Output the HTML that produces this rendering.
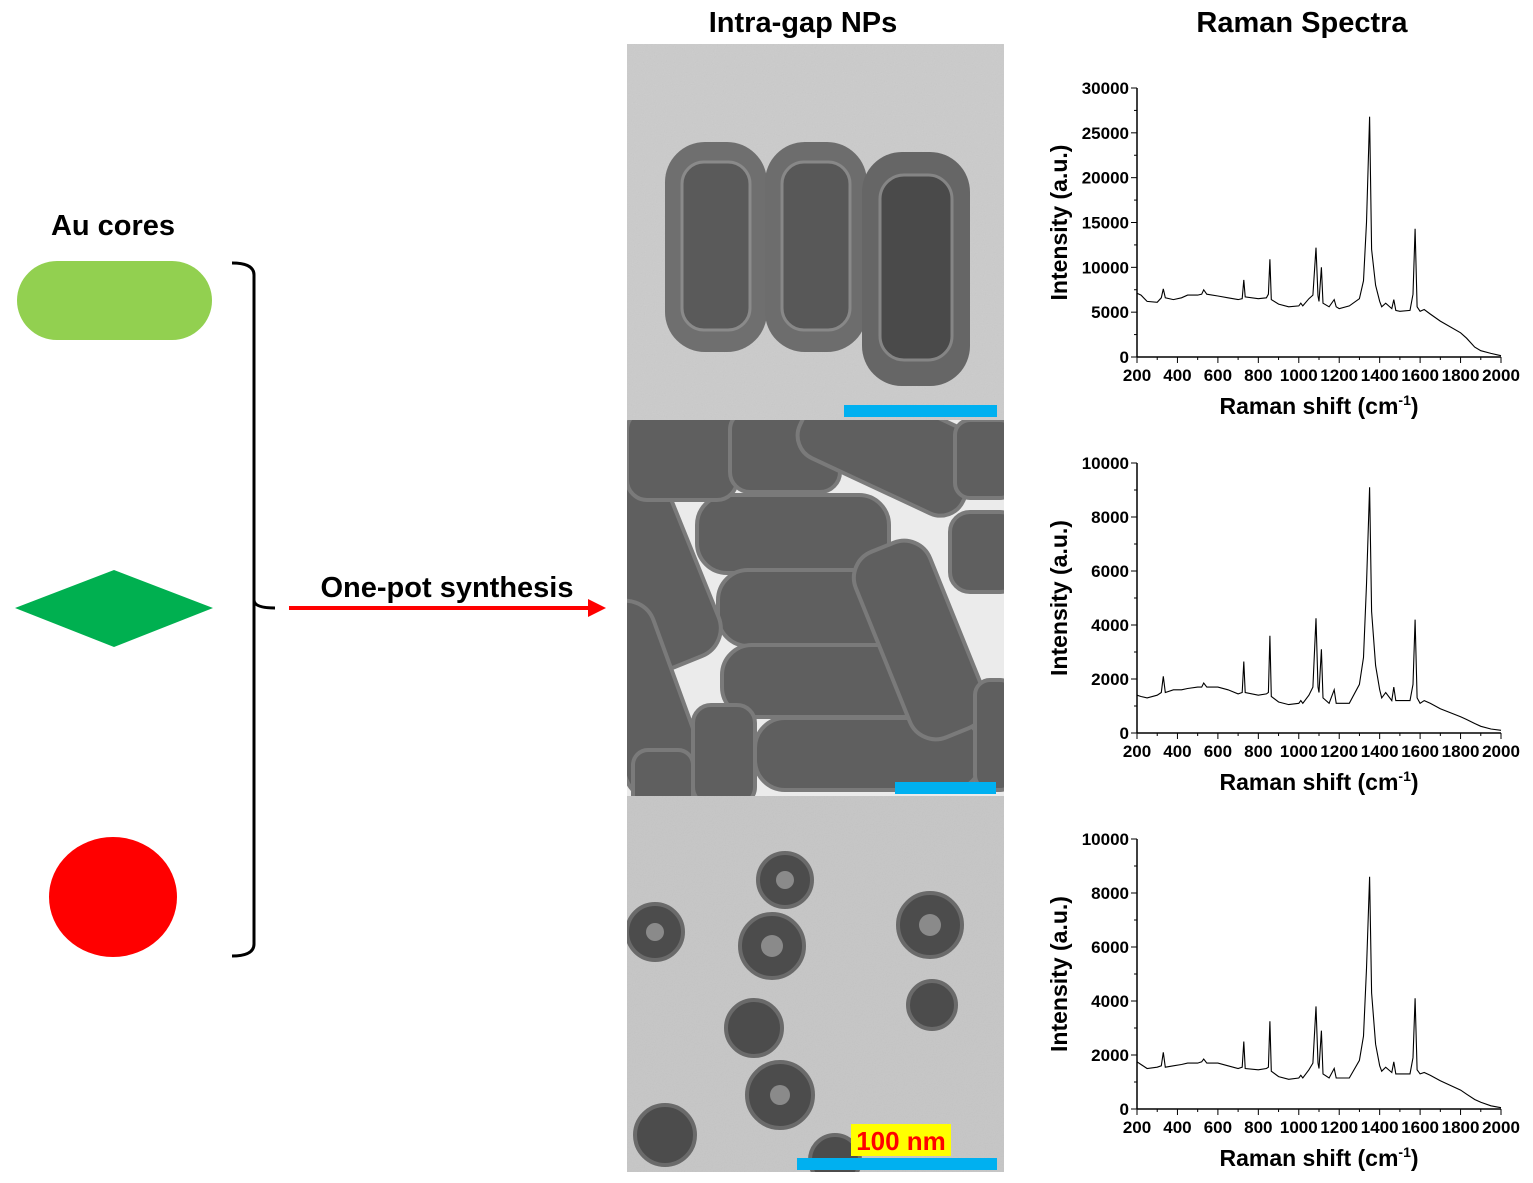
<!DOCTYPE html>
<html><head><meta charset="utf-8"><style>
html,body{margin:0;padding:0;background:#fff;}
svg{display:block;font-family:"Liberation Sans",Arial,sans-serif;}
</style></head><body>
<svg id="fig" width="1533" height="1183" viewBox="0 0 1533 1183">
<defs>
<filter id="noise" x="0" y="0" width="100%" height="100%"><feTurbulence type="fractalNoise" baseFrequency="0.9" numOctaves="1" result="n"/><feColorMatrix type="saturate" values="0"/><feComponentTransfer><feFuncA type="linear" slope="0.12"/></feComponentTransfer><feComposite in2="SourceGraphic" operator="in"/></filter>
<clipPath id="c1"><rect x="627" y="44" width="377" height="376"/></clipPath>
<clipPath id="c2"><rect x="627" y="420" width="377" height="376"/></clipPath>
<clipPath id="c3"><rect x="627" y="796" width="377" height="376"/></clipPath>
</defs>
<text x="113" y="235" font-size="29" font-weight="bold" text-anchor="middle">Au cores</text>
<rect x="17" y="261" width="195" height="79" rx="40" ry="40" fill="#92d050"/>
<polygon points="15,608 114,570 213,608 114,647" fill="#00b050"/>
<ellipse cx="113" cy="897" rx="64" ry="60" fill="#ff0000"/>
<path d="M232,263 Q254,263 254,275 L254,600 Q254,608 275,608 M254,608 Q254,616 254,620 L254,944 Q254,956 232,956 M254,600 Q254,608 254,616" fill="none" stroke="#000" stroke-width="3"/>
<line x1="289" y1="608" x2="590" y2="608" stroke="#ff0000" stroke-width="4"/>
<polygon points="588,599 606,608 588,617" fill="#ff0000"/>
<text x="447" y="597" font-size="29" font-weight="bold" text-anchor="middle">One-pot synthesis</text>
<text x="803" y="32" font-size="29" font-weight="bold" text-anchor="middle">Intra-gap NPs</text>
<text x="1302" y="32" font-size="29" font-weight="bold" text-anchor="middle">Raman Spectra</text>

<g clip-path="url(#c1)">
<rect x="627" y="44" width="377" height="376" fill="#cbcbcb"/>
<rect x="627" y="44" width="377" height="376" fill="#fff" filter="url(#noise)"/>
<rect x="665" y="142" width="102" height="210" rx="40" fill="#6f6f6f"/>
<rect x="682" y="162" width="68" height="168" rx="22" fill="#5a5a5a" stroke="#8a8a8a" stroke-width="3"/>
<rect x="765" y="142" width="102" height="210" rx="40" fill="#6d6d6d"/>
<rect x="782" y="162" width="68" height="168" rx="22" fill="#585858" stroke="#888" stroke-width="3"/>
<rect x="862" y="152" width="108" height="234" rx="40" fill="#666"/>
<rect x="880" y="175" width="72" height="185" rx="24" fill="#4a4a4a" stroke="#858585" stroke-width="3"/>
<rect x="844" y="405" width="153" height="12" fill="#00b0f0"/>
</g>

<g clip-path="url(#c2)">
<rect x="627" y="420" width="377" height="376" fill="#ebebeb"/>
<g fill="#5f5f5f" stroke="#7a7a7a" stroke-width="4">
<rect x="697" y="495" width="192" height="78" rx="30"/>
<rect x="718" y="570" width="196" height="76" rx="30"/>
<rect x="722" y="645" width="210" height="72" rx="30"/>
<rect x="755" y="718" width="226" height="72" rx="30"/>
<rect x="880" y="540" width="80" height="200" rx="28" transform="rotate(-22 920 640)"/>
<rect x="600" y="440" width="90" height="230" rx="30" transform="rotate(-22 645 555)"/>
<rect x="600" y="600" width="80" height="200" rx="30" transform="rotate(-20 640 700)"/>
<rect x="627" y="410" width="110" height="90" rx="20"/>
<rect x="730" y="410" width="110" height="82" rx="20"/>
<rect x="800" y="400" width="180" height="90" rx="25" transform="rotate(25 890 445)"/>
<rect x="955" y="420" width="60" height="78" rx="15"/>
<rect x="950" y="512" width="70" height="80" rx="20"/>
<rect x="693" y="705" width="62" height="100" rx="18"/>
<rect x="633" y="750" width="60" height="60" rx="15"/>
<rect x="975" y="680" width="40" height="110" rx="15"/>
</g>
<rect x="895" y="782" width="101" height="12" fill="#00b0f0"/>
</g>

<g clip-path="url(#c3)">
<rect x="627" y="796" width="377" height="376" fill="#c6c6c6"/>
<rect x="627" y="796" width="377" height="376" fill="#fff" filter="url(#noise)"/>
<g fill="#4c4c4c" stroke="#6a6a6a" stroke-width="4">
<circle cx="785" cy="880" r="27"/><circle cx="930" cy="925" r="32"/><circle cx="655" cy="932" r="28"/>
<circle cx="772" cy="946" r="32"/><circle cx="754" cy="1028" r="28"/><circle cx="932" cy="1005" r="24"/>
<circle cx="780" cy="1095" r="33"/><circle cx="665" cy="1135" r="30"/><circle cx="835" cy="1160" r="25"/>
</g>
<g fill="#8a8a8a"><circle cx="785" cy="880" r="9"/><circle cx="930" cy="925" r="11"/><circle cx="655" cy="932" r="9"/><circle cx="772" cy="946" r="11"/><circle cx="780" cy="1095" r="10"/></g>
<rect x="851" y="1124" width="100" height="32" fill="#ffff00"/>
<text x="901" y="1150" font-size="26" font-weight="bold" fill="#ff0000" text-anchor="middle">100 nm</text>
<rect x="797" y="1158" width="200" height="12" fill="#00b0f0"/>
</g>

<g id="charts"></g>
</svg>
<script>
// Wavenumbers (cm-1) shared by all spectra
const shifts = [200,220,250,300,320,330,340,380,420,450,500,520,530,545,600,650,700,720,728,735,800,840,850,857,864,900,950,1000,1010,1020,1050,1070,1085,1095,1100,1112,1120,1150,1175,1185,1200,1250,1300,1320,1335,1350,1360,1380,1400,1410,1430,1460,1470,1480,1500,1550,1565,1575,1585,1600,1620,1650,1700,1800,1830,1870,1900,1950,2000];
const spectrumA = [7100,6900,6200,6100,6600,7600,6600,6400,6600,6900,6900,7000,7500,7000,6800,6600,6400,6500,8600,6700,6500,6600,7000,10900,6400,5900,5600,5700,6000,5700,6500,6900,12200,6800,6200,10000,6000,5600,6400,5600,5400,5700,6500,8500,15000,26800,12000,8000,6200,5600,6000,5400,6400,5200,5100,5200,7000,14300,5600,5100,5300,4800,4000,2700,2100,1100,700,400,150];
const spectrumB = [1400,1350,1300,1400,1500,2100,1500,1600,1600,1650,1700,1700,1850,1700,1700,1600,1450,1500,2650,1500,1400,1450,1500,3600,1350,1150,1050,1100,1200,1100,1400,1700,4250,1700,1500,3100,1300,1100,1600,1100,1100,1100,1800,2800,5500,9100,4500,2500,1600,1300,1500,1200,1700,1200,1200,1200,1800,4200,1300,1100,1200,1100,900,600,500,350,250,150,100];
const spectrumC = [1750,1650,1500,1550,1600,2100,1550,1600,1650,1700,1700,1750,1850,1700,1700,1600,1500,1550,2500,1500,1450,1500,1550,3250,1400,1200,1100,1150,1250,1150,1450,1700,3800,1700,1500,2900,1300,1150,1500,1150,1150,1150,1800,2700,5200,8600,4300,2400,1600,1400,1550,1350,1750,1300,1300,1300,1900,4100,1450,1300,1350,1250,1050,700,550,350,250,120,50];
const xTicks = [200,400,600,800,1000,1200,1400,1600,1800,2000];
const yTicksA = [0,5000,10000,15000,20000,25000,30000];
const yTicksB = [0,2000,4000,6000,8000,10000];
const yTicksC = [0,2000,4000,6000,8000,10000];

const NS = 'http://www.w3.org/2000/svg';
const root = document.getElementById('charts');
function mk(tag, attrs, parent){const e=document.createElementNS(NS,tag);for(const k in attrs)e.setAttribute(k,attrs[k]);parent.appendChild(e);return e;}

function drawChart(name, top, bottom, values, yTicks, minorStep){
  const left=1137, right=1501, xMin=200, xMax=2000;
  const yMax=yTicks[yTicks.length-1];
  const sx=v=>left+(v-xMin)/(xMax-xMin)*(right-left);
  const sy=v=>bottom-(v/yMax)*(bottom-top);
  const g=mk('g',{},root);
  
  
  const yAxis=mk('line',{x1:left,y1:top,x2:left,y2:bottom,stroke:'#000','stroke-width':1.5},g);
  
  
  const xAxis=mk('line',{x1:left,y1:bottom,x2:right,y2:bottom,stroke:'#000','stroke-width':1.5},g);
  
  
  for(let v=0; v<=yMax; v+=minorStep){
    const major=yTicks.includes(v);
    mk('line',{x1:left-(major?6:3),y1:sy(v),x2:left,y2:sy(v),stroke:'#000','stroke-width':1},g);
  }
  yTicks.forEach(v=>{
    const t=mk('text',{x:left-8,y:sy(v)+6,'font-size':17,'font-weight':'bold','text-anchor':'end'},g);
    t.textContent=v;
    
    
  });
  for(let v=xMin; v<=xMax; v+=100){
    const major=xTicks.includes(v);
    mk('line',{x1:sx(v),y1:bottom,x2:sx(v),y2:bottom+(major?6:3),stroke:'#000','stroke-width':1},g);
  }
  xTicks.forEach(v=>{
    const t=mk('text',{x:sx(v),y:bottom+24,'font-size':17,'font-weight':'bold','text-anchor':'middle'},g);
    t.textContent=v;
    
    
  });
  const xt=mk('text',{x:(left+right)/2,y:bottom+57,'font-size':23,'font-weight':'bold','text-anchor':'middle'},g);
  xt.innerHTML='Raman shift (cm<tspan dy="-9" font-size="14">-1</tspan><tspan dy="9">)</tspan>';
  
  
  const cy=(top+bottom)/2;
  const yt=mk('text',{x:1067,y:cy,'font-size':23,'font-weight':'bold','text-anchor':'middle',transform:'rotate(-90 1067 '+cy+')'},g);
  yt.textContent='Intensity (a.u.)';
  
  
  const d=values.map((v,i)=>(i?'L':'M')+sx(shifts[i]).toFixed(1)+','+sy(v).toFixed(1)).join(' ');
  const p=mk('path',{d:d,fill:'none',stroke:'#000','stroke-width':1.1},g);
  
  
}
drawChart('raman-chart-nanorods', 88, 357, spectrumA, yTicksA, 2500);
drawChart('raman-chart-bipyramids', 463, 733, spectrumB, yTicksB, 1000);
drawChart('raman-chart-spheres', 839, 1109, spectrumC, yTicksC, 1000);
</script>
</body></html>
